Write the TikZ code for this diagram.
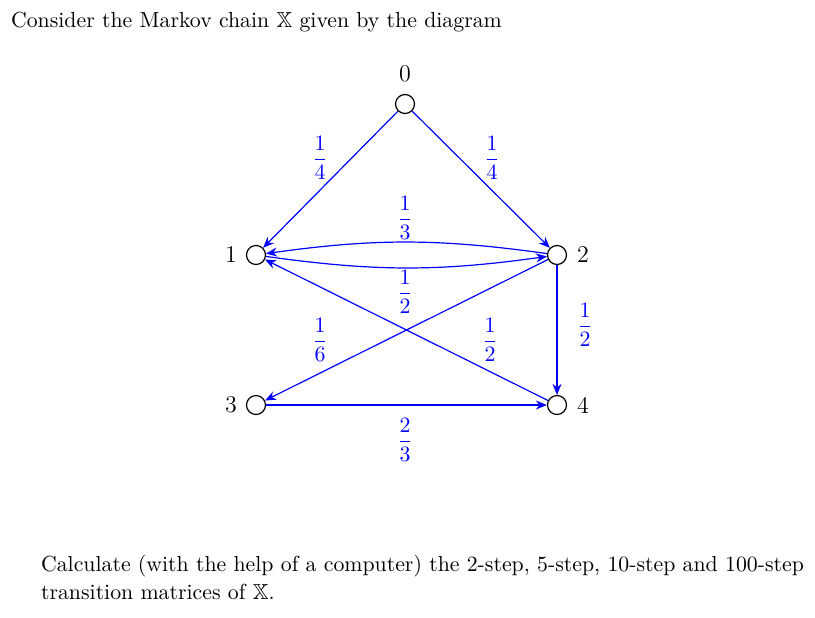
\documentclass[tikz,border=0pt]{standalone}
\usepackage{amsmath,amssymb}
\usetikzlibrary{arrows.meta}
\begin{document}
\begin{tikzpicture}[x=0.5pt,y=-0.5pt,
  font=\fontsize{10.9}{14}\selectfont,
  st/.style={circle,draw,line width=0.6pt,minimum size=9.5pt,inner sep=0pt},
  tr/.style={draw=blue,line width=0.6pt,-{Stealth[length=5.5pt,width=4.5pt]}},
  lb/.style={text=blue}]
\useasboundingbox (0,0) rectangle (815,617);
\node[anchor=west] (t1) at (4,22) {Consider the Markov chain $\mathbb{X}$ given by the diagram};
\node[st] (s0) at (405,104) {};
\node[st] (s1) at (256,255) {};
\node[st] (s2) at (557,255) {};
\node[st] (s3) at (256,405) {};
\node[st] (s4) at (557,405) {};
\node (l0) at (405,74) {\large 0};
\node (l1) at (231,255) {\large 1};
\node (l2) at (583,255) {\large 2};
\node (l3) at (231,405) {\large 3};
\node (l4) at (583,405) {\large 4};
\draw[tr] (s0) -- (s1);
\draw[tr] (s0) -- (s2);
\draw[tr] (s2) to[bend right=8] (s1);
\draw[tr] (s1) to[bend right=8] (s2);
\draw[tr] (s2) -- (s4);
\draw[tr] (s4) -- (s1);
\draw[tr] (s2) -- (s3);
\draw[tr] (s3) -- (s4);
\node[lb] (f1) at (320,158) {$\dfrac14$};
\node[lb] (f2) at (492,158) {$\dfrac14$};
\node[lb] (f3) at (405,218) {$\dfrac13$};
\node[lb] (f4) at (405,292) {$\dfrac12$};
\node[lb] (f5) at (320,340) {$\dfrac16$};
\node[lb] (f6) at (490,340) {$\dfrac12$};
\node[lb] (f7) at (585,325) {$\dfrac12$};
\node[lb] (f8) at (405,440) {$\dfrac23$};
\node[anchor=west,align=left] (t2) at (34,577) {Calculate (with the help of a computer) the 2-step, 5-step, 10-step and 100-step\\transition matrices of $\mathbb{X}$.};
\end{tikzpicture}
\end{document}
